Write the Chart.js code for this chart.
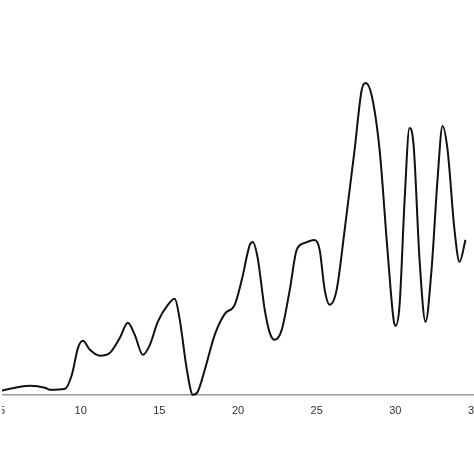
<!DOCTYPE html>
<html>
<head>
<script src="https://cdn.jsdelivr.net/npm/chart.js@4"></script>
<style>
  html, body { margin: 0; padding: 0; background: #fff; overflow: hidden; }
  #box { position: absolute; left: 2px; top: 0; width: 472px; height: 474px; }
</style>
</head>
<body>
<div id="box"><canvas id="myChart"></canvas></div>
<script>
// curve
let xVals = [4.87, 6.78, 7.73, 8.05, 9.0, 9.44, 9.83, 10.14, 10.59, 11.22, 11.86, 12.49, 13.0, 13.44, 13.95, 14.4, 14.9, 15.54, 15.98, 16.3, 16.75, 17.13, 17.44, 17.89, 18.52, 19.16, 19.79, 20.24, 20.75, 20.94, 21.25, 21.7, 22.02, 22.33, 22.78, 23.29, 23.73, 24.24, 24.87, 25.19, 25.51, 25.83, 26.27, 26.78, 27.41, 27.86, 28.11, 28.49, 29.0, 29.5, 29.89, 30.02, 30.27, 30.59, 30.9, 31.16, 31.54, 31.92, 32.3, 32.68, 33.0, 33.32, 33.76, 34.08, 34.46, 34.97];
let yVals = [4, 9, 7, 5, 6, 20, 47, 54, 45, 39, 42, 57, 72, 60, 40, 50, 73, 90, 96, 75, 25, 0, 3, 25, 60, 81, 90, 115, 150, 153, 137, 85, 62, 55, 65, 105, 145, 152, 155, 145, 105, 90, 105, 165, 245, 305, 312, 300, 245, 145, 75, 69, 90, 195, 267, 250, 135, 73, 125, 215, 269, 245, 165, 133, 155];
let xTicks = [5, 10, 15, 20, 25, 30, 35];

let points = [];
for (let i = 0; i < yVals.length; i++) {
    points.push({x: xVals[i], y: yVals[i]});
}

const config = {
    type: 'line',
    data: {
        datasets: [{
            data: points,
            borderColor: '#111',
            borderWidth: 2,
            pointRadius: 0,
            tension: 0.4,
            cubicInterpolationMode: 'monotone',
            clip: false
        }]
    },
    options: {
        responsive: true,
        maintainAspectRatio: false,
        animation: false,
        layout: { padding: { top: 0, bottom: 50, left: 0, right: 0 } },
        plugins: { legend: { display: false }, tooltip: { enabled: false } },
        scales: {
            x: {
                type: 'linear',
                min: 5,
                max: 35,
                afterBuildTicks: s => { s.ticks = xTicks.map(v => ({value: v})); },
                afterFit: s => { s.paddingLeft = 0; s.paddingRight = 0; },
                grid: { display: false, drawTicks: true, tickLength: 4 },
                border: { color: '#999', width: 1.5 },
                ticks: { color: '#333', font: { family: 'Liberation Sans', size: 11 }, padding: 6, maxRotation: 0 }
            },
            y: {
                display: false,
                min: 0,
                max: 395
            }
        }
    }
};
let myChart = new Chart(document.getElementById('myChart'), config);
</script>
</body>
</html>
